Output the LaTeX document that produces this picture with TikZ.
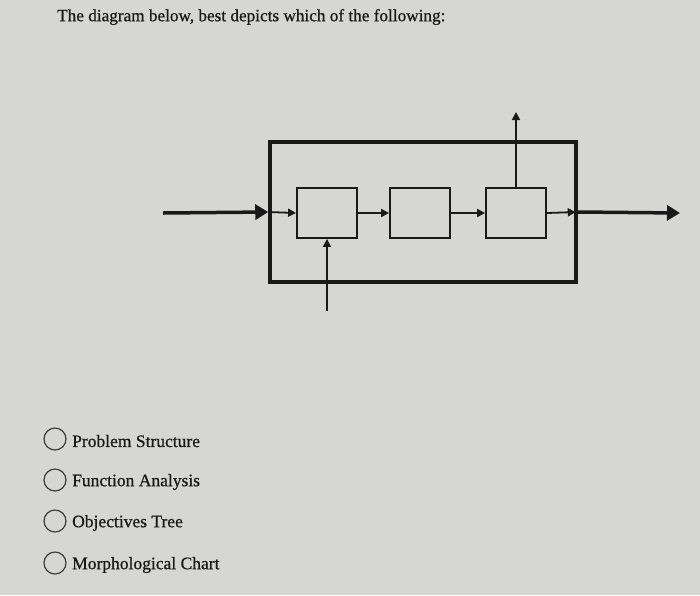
\documentclass[tikz,border=0pt]{standalone}
\usepackage{fontspec}
\setmainfont{Liberation Serif}[FakeBold=0.7]
\usetikzlibrary{arrows.meta}
\definecolor{paper}{RGB}{214,214,212}
\definecolor{ink}{RGB}{25,25,25}
\tikzset{
  blk/.style={draw=ink, line width=1.8pt, minimum width=60pt, minimum height=50pt, inner sep=0pt},
  sysbox/.style={draw=ink, line width=3.5pt, minimum width=306pt, minimum height=140pt, inner sep=0pt},
  flow/.style={draw=ink, line width=1.8pt, -{Triangle[length=8pt, width=8pt]}},
  bigflow/.style={draw=ink, line width=3.5pt, -{Triangle[length=13pt, width=15pt]}},
  radio/.style={circle, draw=ink!85, line width=1.2pt, minimum size=22pt, inner sep=0pt},
  choice/.style={anchor=west, inner sep=0pt, text=ink, font=\fontsize{17.5}{20}\selectfont},
}

\begin{document}
\begin{tikzpicture}[x=1pt, y=-1pt]

\fill[paper] (0,0) rectangle (700,595);
\useasboundingbox (0,0) rectangle (700,595);

\node[anchor=west, inner sep=0pt, text=ink, font=\fontsize{17.2}{20}\selectfont] (title) at (57, 17) {%
The diagram below, best depicts which of the following:
};

% system and its three functions
\node[sysbox] (sys) at (423, 212) {};
\node[blk] (f1) at (327, 213) {};
\node[blk] (f2) at (420, 213) {};
\node[blk] (f3) at (516, 213) {};

\coordinate (in) at (163, 213);
\coordinate (out) at (680, 213);
\coordinate (up) at (516, 112);
\coordinate (low) at (327, 311);

\draw[bigflow] (in) -- (sys.west);
\draw[flow] (sys.west) -- (f1.west);
\draw[flow] (f1) -- (f2);
\draw[flow] (f2) -- (f3);
\draw[flow, shorten >=2pt] (f3.east) -- (sys.east);
\draw[bigflow] (sys.east) -- (out);
\draw[flow] (f3.north) -- (up);
\draw[flow] (low) -- (f1.south);

% answer options
\node[radio] (r1) at (55, 439) {};
\node[radio] (r2) at (55, 480) {};
\node[radio] (r3) at (55, 521) {};
\node[radio] (r4) at (55, 563) {};
\node[choice] (c1) at (72, 441) {Problem Structure};
\node[choice] (c2) at (72, 482) {Function Analysis};
\node[choice] (c3) at (72, 523) {Objectives Tree};
\node[choice] (c4) at (72, 565) {Morphological Chart};

\end{tikzpicture}
\end{document}
